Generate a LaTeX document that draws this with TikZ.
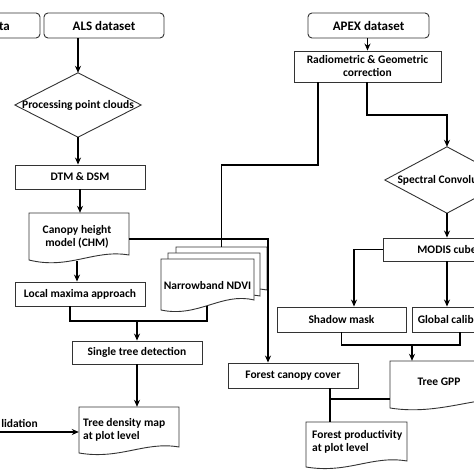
\documentclass[tikz,border=0pt]{standalone}
\usepackage{fontspec}
\setmainfont{Carlito}
\usetikzlibrary{arrows.meta,calc}
\definecolor{boxc}{HTML}{333333}
\begin{document}
\begin{tikzpicture}[x=1pt,y=-1pt,
  bodyfont/.style={font=\bfseries\fontsize{11.5}{13}\selectfont},
  box/.style={draw=boxc, line width=0.9pt, fill=white, rectangle, inner sep=0pt, bodyfont, align=center},
  hdr/.style={box, rounded corners=4pt, font=\bfseries\fontsize{13}{15}\selectfont},
  region/.style={rectangle, draw=none, inner sep=0pt, bodyfont, align=center},
  ltxt/.style={region, align=left, anchor=west},
  docb/.style={draw=boxc, line width=0.9pt, fill=white},
  conn/.style={line width=1.5pt, draw=black},
  arr/.style={conn, -{Stealth[length=7pt,width=6pt]}},
]
\path[use as bounding box] (0,0) rectangle (474,474);
\clip (0,0) rectangle (474,474);
\fill[white] (0,0) rectangle (474,474);

% ---------- left column ----------
\node[hdr, minimum width=100pt, minimum height=25pt] (ld) at (-10,25.5) {};
\node[region, font=\bfseries\fontsize{13}{15}\selectfont, anchor=east] (ldt) at (10,26) {ta};
\node[hdr, minimum width=120pt, minimum height=25pt] (als) at (104,25.5) {ALS dataset};

\node[region, minimum width=126pt, minimum height=64pt] (ppc) at (78,105) {Processing point clouds};
\draw[docb, fill=none] (ppc.north) -- (ppc.east) -- (ppc.south) -- (ppc.west) -- cycle;

\node[box, minimum width=130pt, minimum height=24pt] (dtm) at (80,177) {DTM \& DSM};

\draw[docb] (29,213) -- (129,213) -- (129,255) .. controls (94,249) and (69,270) .. (29,260) -- cycle;
\node[region, minimum width=104pt, minimum height=48pt] (chm) at (77,237) {Canopy height\\model (CHM)};

\node[box, minimum width=130pt, minimum height=24pt] (lm) at (80,294) {Local maxima approach};

% NDVI stack
\draw[docb] (176,247) -- (267,247) -- (267,290) .. controls (235,284) and (213,305) .. (176,298) -- cycle;
\node[region, minimum width=91pt, minimum height=45pt] (ndviback) at (221.5,269.5) {};
\draw[docb] (168,253) -- (260,253) -- (260,296) .. controls (228,290) and (205,311) .. (168,304) -- cycle;
\draw[docb] (161,259) -- (254,259) -- (254,300) .. controls (222,292) and (198,318) .. (161,310) -- cycle;
\node[region, minimum width=93pt, minimum height=40pt] (ndvi) at (207.5,286) {Narrowband NDVI};

\node[box, minimum width=130pt, minimum height=23pt] (std) at (137,352.5) {Single tree detection};

\draw[docb] (79,407) -- (179,407) -- (179,447) .. controls (145,441) and (120,460) .. (79,453) -- cycle;
\node[region, minimum width=100pt, minimum height=45pt] (tdm) at (129,429.5) {};
\node[ltxt] (tdmt) at (83,429.5) {Tree density map\\ at plot level};

\node[region, anchor=east] (valt) at (38,423) {lidation};

% ---------- right column ----------
\node[hdr, minimum width=121pt, minimum height=25pt] (apex) at (368.5,25.5) {APEX dataset};
\node[box, minimum width=147pt, minimum height=31pt] (rad) at (367.5,66.5) {Radiometric \& Geometric\\correction};

\node[region, minimum width=124pt, minimum height=66pt] (sc) at (447,180) {Spectral Convolution};
\draw[docb, fill=none] (sc.north) -- (sc.east) -- (sc.south) -- (sc.west) -- cycle;

\node[box, minimum width=128pt, minimum height=23pt] (modis) at (447,249.5) {MODIS cube};
\node[box, minimum width=129pt, minimum height=25pt] (shadow) at (341.5,319.5) {Shadow mask};
\node[box, minimum width=96pt, minimum height=25pt] (gc) at (460,319.5) {Global calibration};

\draw[docb] (390,361) -- (515,361) -- (515,400) .. controls (480,394) and (440,416) .. (390,408) -- cycle;
\node[region, minimum width=98pt, minimum height=42pt] (tgpp) at (439,382) {Tree GPP};

\node[box, minimum width=130pt, minimum height=25pt] (fcc) at (293,375.5) {Forest canopy cover};

\draw[docb] (306,422) -- (407,422) -- (407,461) .. controls (372,455) and (348,474) .. (306,467) -- cycle;
\node[region, minimum width=101pt, minimum height=39pt] (fp) at (356.5,441.5) {};
\node[ltxt] (fpt) at (312,441.5) {Forest productivity\\ at plot level};

% ---------- connectors ----------
\draw[arr] (ppc.north |- als.south) -- (ppc.north);
\draw[arr] (ppc.south) -- (ppc.south |- dtm.north);
\draw[arr] (dtm.south) -- (dtm.south |- chm.north);
\draw[arr] (chm.south) -- (chm.south |- lm.north);

\coordinate (c1) at (268,239);
\draw[arr] (chm.east |- c1) -- (c1) -- (c1 |- fcc.north);

\coordinate (r1) at (318,165);
\draw[conn] (rad.south -| r1) -- (r1) -- (r1 -| ndviback.north) -- (ndviback.north);

\coordinate (j1) at (70,321);
\coordinate (j2) at (207,321);
\draw[conn] (lm.south -| j1) -- (j1) -- (j2) -- (j2 |- ndvi.south);
\draw[arr] (std.north |- j1) -- (std.north);
\draw[arr] (std.south) -- (std.south |- tdm.north);

\coordinate (v1) at (0,432);
\draw[arr] (v1) -- (v1 -| tdm.west);

\draw[arr] (rad.north |- apex.south) -- (rad.north);
\coordinate (r2) at (367,115);
\draw[arr] (rad.south -| r2) -- (r2) -| (sc.north);
\draw[arr] (sc.south) -- (modis.north);

\coordinate (m1) at (354,249.5);
\draw[arr] (modis.west) -- (m1) -- (m1 |- shadow.north);
\draw[arr] (modis.south) -- (modis.south |- gc.north);

\coordinate (s1) at (341.5,345);
\draw[conn] (shadow.south) -- (s1) -- (s1 -| gc.south) -- (gc.south);
\coordinate (s2) at (412,345);
\draw[arr] (s2) -- (s2 |- tgpp.north);

\coordinate (g1) at (330,399);
\draw[conn] (fcc.south -| g1) -- (g1 |- fp.north);
\draw[conn] (tgpp.west |- g1) -- (g1);
\end{tikzpicture}
\end{document}
